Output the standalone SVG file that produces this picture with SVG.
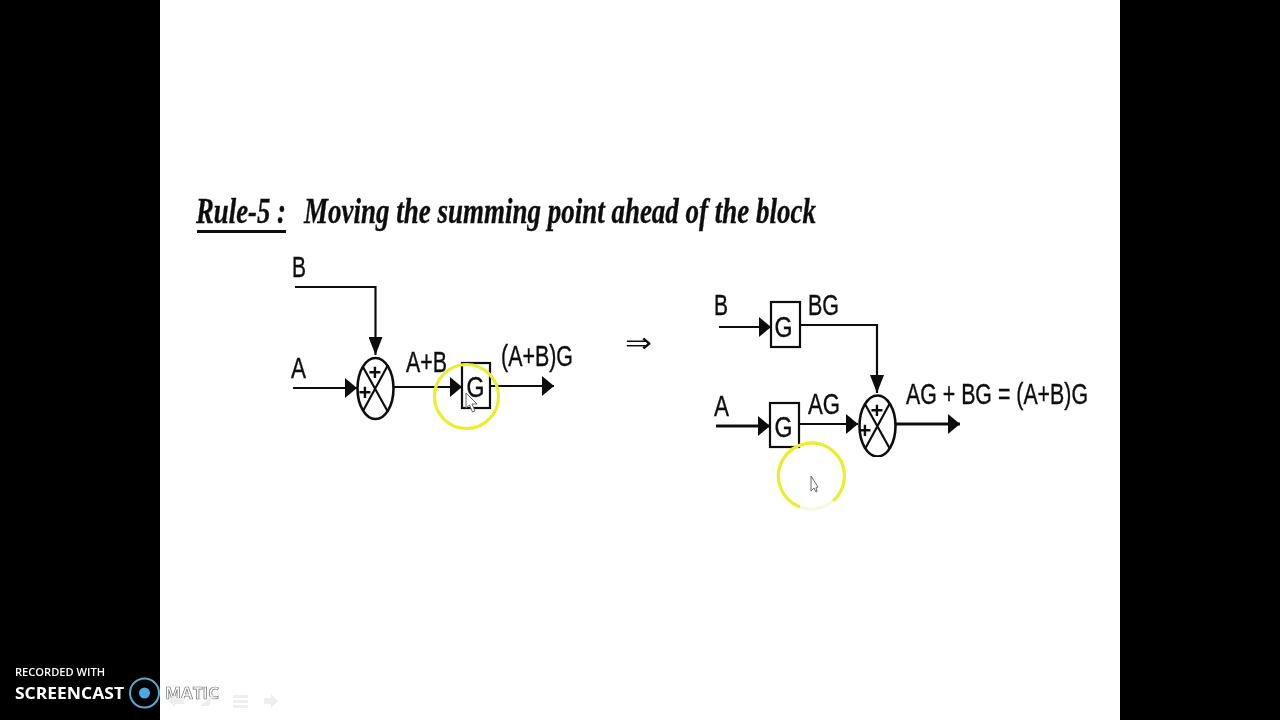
<svg xmlns="http://www.w3.org/2000/svg" width="1280" height="720" viewBox="0 0 1280 720">
<style>
.lab{font-family:"Liberation Sans",Arial,sans-serif;font-size:29px;fill:#111;stroke:#111;stroke-width:0.4}
.sign{font-family:"Liberation Sans",Arial,sans-serif;font-size:22px;font-weight:bold;fill:#111;text-anchor:middle}
.ln{fill:none;stroke:#111;stroke-width:2.2}
.box{fill:#fff;stroke:#111;stroke-width:2.2}
.sum{fill:#fff;stroke:#111;stroke-width:2.6}
.hl{fill:none;stroke:#eaee2c;stroke-width:3.2}
.cur{fill:#fff;stroke:#666;stroke-width:1}
.ttl{font-family:"Liberation Serif",serif;font-style:italic;font-weight:bold;font-size:30px;fill:#111;stroke:#111;stroke-width:0.3}
</style>
<defs>
<marker id="ah" markerUnits="userSpaceOnUse" markerWidth="12" markerHeight="20" refX="12" refY="10" orient="auto"><path d="M0,0L12,10L0,20Z" fill="#111"/></marker>
<marker id="ad" markerUnits="userSpaceOnUse" markerWidth="18" markerHeight="14" refX="18" refY="7" orient="auto"><path d="M0,0L18,7L0,14Z" fill="#111"/></marker>
<filter id="soft" x="0" y="0" width="1" height="1" filterUnits="objectBoundingBox"><feGaussianBlur stdDeviation="0.45"/></filter>
</defs>
<rect width="1280" height="720" fill="#fff"/>
<rect x="0" y="0" width="160" height="720" fill="#000"/>
<rect x="1120" y="0" width="160" height="720" fill="#000"/>
<g filter="url(#soft)">
<g id="title">
<text class="ttl" transform="translate(196 223) scale(1 1.22)" textLength="90" lengthAdjust="spacingAndGlyphs">Rule-5 :</text>
<text class="ttl" transform="translate(304 223) scale(1 1.22)" textLength="512" lengthAdjust="spacingAndGlyphs">Moving the summing point ahead of the block</text>
<rect x="197" y="230" width="89" height="3" fill="#111"/>
</g>
<g id="connectors">
<path class="ln" d="M295 287H375.500V355" marker-end="url(#ad)"/>
<path class="ln" d="M293 388H357" marker-end="url(#ah)"/>
<path class="ln" d="M394 387H462" marker-end="url(#ah)"/>
<path class="ln" d="M490 386H554" marker-end="url(#ah)"/>
<path class="ln" d="M719 327H771" marker-end="url(#ah)"/>
<path class="ln" d="M800 325H877V393" marker-end="url(#ad)"/>
<path class="ln" style="stroke-width:2.8" d="M716 426H770" marker-end="url(#ah)"/>
<path class="ln" d="M799 424H858" marker-end="url(#ah)"/>
<path class="ln" style="stroke-width:3" d="M896 424H960" marker-end="url(#ah)"/>
</g>
<g id="sum1">
<ellipse class="sum" cx="375.500" cy="388.500" rx="18" ry="30.500"/>
<path class="ln" d="M363 367L388 412M388 365L363 411"/>
<text class="sign" x="375" y="380">+</text><text class="sign" x="365" y="400">+</text>
</g>
<g id="block1">
<rect class="box" x="462" y="363" width="28" height="45"/>
<text class="lab" x="466.500" y="397" textLength="18" lengthAdjust="spacingAndGlyphs">G</text>
</g>
<g id="block2">
<rect class="box" x="771" y="302" width="29" height="45"/>
<text class="lab" x="774.500" y="337" textLength="18" lengthAdjust="spacingAndGlyphs">G</text>
</g>
<g id="block3">
<rect class="box" x="770" y="403" width="29" height="44"/>
<text class="lab" x="774.500" y="437" textLength="18" lengthAdjust="spacingAndGlyphs">G</text>
</g>
<g id="sum2">
<ellipse class="sum" cx="877.500" cy="426" rx="18" ry="30.500"/>
<path class="ln" d="M865 404L890 449M890 403L865 449"/>
<text class="sign" x="877" y="418">+</text><text class="sign" x="865" y="438">+</text>
</g>
<g id="labels">
<text class="lab" x="292" y="277" textLength="14" lengthAdjust="spacingAndGlyphs">B</text>
<text class="lab" x="291" y="378" textLength="15" lengthAdjust="spacingAndGlyphs">A</text>
<text class="lab" x="406" y="372" textLength="41" lengthAdjust="spacingAndGlyphs">A+B</text>
<text class="lab" x="501" y="366" textLength="72" lengthAdjust="spacingAndGlyphs">(A+B)G</text>
<text class="lab" x="714" y="315" textLength="14" lengthAdjust="spacingAndGlyphs">B</text>
<text class="lab" x="714" y="416" textLength="15" lengthAdjust="spacingAndGlyphs">A</text>
<text class="lab" x="808" y="315" textLength="31" lengthAdjust="spacingAndGlyphs">BG</text>
<text class="lab" x="808" y="414" textLength="32" lengthAdjust="spacingAndGlyphs">AG</text>
<text class="lab" x="906" y="404" textLength="182" lengthAdjust="spacingAndGlyphs">AG + BG = (A+B)G</text>
<text x="625" y="352" font-family="'DejaVu Sans',sans-serif" font-size="27" fill="#111" textLength="27" lengthAdjust="spacingAndGlyphs">⇒</text>
</g>
</g>
<g id="pointer1">
<circle class="hl" cx="466.500" cy="396.500" r="32"/>
<path class="cur" d="M466 393V408L469.500 405L472.500 412L475 411L472 404H477Z"/>
</g>
<g id="pointer2">
<path class="hl" d="M800 507A33 33 0 1 1 833 501"/>
<path style="fill:none;stroke:#f8f8dc;stroke-width:3.200" d="M833 501A33 33 0 0 1 800 507"/>
<path class="cur" d="M811 476V491L814 488L816 492L817 491.500L816 487.500L818 487Z"/>
</g>
<g id="watermark">
<text x="15" y="676" font-family="'Open Sans',sans-serif" font-weight="600" font-size="11" fill="#fff" textLength="90" lengthAdjust="spacingAndGlyphs">RECORDED WITH</text>
<text x="15" y="699" font-family="'Open Sans',sans-serif" font-weight="700" font-size="16.500" fill="#fff" textLength="109" lengthAdjust="spacingAndGlyphs">SCREENCAST</text>
<circle cx="144.500" cy="693" r="14.500" fill="#000" stroke="#5aa7d0" stroke-width="2"/>
<circle cx="144.500" cy="693" r="5.500" fill="#4fa5e0"/>
<text x="165" y="699" font-family="'Open Sans',sans-serif" font-weight="700" font-size="15.500" fill="#fff" stroke="#777" stroke-width="0.700" textLength="54" lengthAdjust="spacingAndGlyphs">MATIC</text>
<g fill="#eeeeee">
<rect x="233" y="695" width="15" height="3"/><rect x="233" y="700" width="15" height="3"/><rect x="233" y="705" width="15" height="3"/>
<path d="M264 698H271V694L278 701L271 708V704H264Z"/>
<path d="M168 701L175 695V698H184V704H175V707Z"/>
<path d="M200 706L207 700L214 694L209 706Z"/>
</g>
</g>
</svg>
